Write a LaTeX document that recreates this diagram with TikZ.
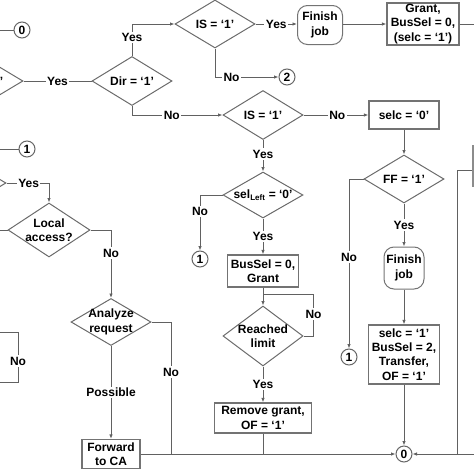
\documentclass[tikz,border=0pt]{standalone}
\usepackage{fontspec}
\setmainfont{Liberation Sans}
\usetikzlibrary{arrows.meta,shapes.geometric}

\tikzset{
  wire/.style={draw=black!62, line width=0.9pt},
  dia/.style={diamond, draw=black!58, line width=1pt, inner sep=0pt,
    minimum width=80pt, minimum height=48pt, label={[align=center]center:#1}},
  box/.style={rectangle, draw=black!55, line width=1.2pt, align=center, inner sep=1pt},
  job/.style={rectangle, rounded corners=10pt, draw=black!55, line width=1pt, align=center,
    inner sep=1pt, minimum width=45pt, minimum height=40pt},
  conn/.style={circle, draw=black!60, line width=1pt, inner sep=0pt, minimum size=16pt},
  lab/.style={fill=white, inner sep=1.5pt},
}

\begin{document}
\begin{tikzpicture}[x=1pt, y=-1pt, >={Latex[length=4.5pt,width=3.5pt]},
    font=\fontsize{12}{14.4}\selectfont\bfseries]
  \clip (0,0) rectangle (474,474);

  % nodes
  \node[conn] (c0a) at (22,30) {0};
  \node[dia={}] (req) at (-17,81) {};
  \node[anchor=base] (q) at (1.5,85) {’};
  \node[dia={Dir = ‘1’}, minimum height=49pt] (dir) at (132,81) {};
  \node[dia={IS = ‘1’}] (isa) at (215,24) {};
  \node[job, minimum height=39pt] (fina) at (320,25) {Finish\\job};
  \node[box, minimum width=72pt, minimum height=42pt] (grant) at (423,24) {Grant,\\BusSel = 0,\\(selc = ‘1’)};
  \node[conn] (c2) at (287,77) {2};
  \node[dia={IS = ‘1’}, minimum height=49pt] (isb) at (263,115) {};
  \node[box, minimum width=70pt, minimum height=28pt] (selca) at (404,115) {selc = ‘0’};
  \node[dia={FF = ‘1’}] (ff) at (404,179) {};
  \node[job, minimum width=40pt, minimum height=42pt] (finb) at (404,268) {Finish\\job};
  \node[box, minimum width=71pt, minimum height=59pt] (selcb) at (404,354.5) {selc = ‘1’\\BusSel = 2,\\Transfer,\\OF = ‘1’};
  \node[conn] (c0b) at (404,454) {0};
  \node[conn] (c1c) at (349,357) {1};
  \node[dia={sel\textsubscript{Left} = ‘0’}, minimum height=46pt] (sel) at (263,195) {};
  \node[conn] (c1b) at (200,259) {1};
  \node[box, minimum width=71pt, minimum height=32pt] (bus) at (263,271) {BusSel = 0,\\Grant};
  \node[dia={Reached\\limit}, minimum height=60pt] (reach) at (263,336) {};
  \node[box, minimum width=97pt, minimum height=30pt] (remove) at (263,418) {Remove grant,\\OF = ‘1’};
  \node[conn] (c1a) at (27,149) {1};
  \node[dia={}] (small) at (-34,183) {};
  \node[dia={Local\\access?}, minimum width=82pt, minimum height=54pt] (local) at (49,230) {};
  \node[dia={Analyze\\request}, minimum height=47pt] (analyze) at (111,322) {};
  \node[box, minimum width=58pt, minimum height=29pt] (forward) at (111,454) {Forward\\to CA};
  \node[fill=black!45, inner sep=0pt, minimum width=6pt, minimum height=42pt] (bar) at (475,166) {};

  \coordinate (in0) at (-5,30);
  \coordinate (in1) at (-5,149);
  \coordinate (inl) at (-5,230);
  \coordinate (outa) at (480,24);
  \coordinate (outb) at (480,454);
  \coordinate (barin) at (472,170);
  \coordinate (rt) at (457,454);
  \coordinate (loop) at (263,294);
  \coordinate (nj) at (171,454);
  \coordinate (bra) at (-5,332);
  \coordinate (brb) at (18,382);
  \coordinate (brc) at (-5,382);

  % connectors
  \draw[wire] (in0) -- (c0a);
  \draw[wire] (req.east) -- node[lab] {Yes} (dir.west);
  \draw[wire,->] (dir.north) |- node[lab,pos=0.29] {Yes} (isa.west);
  \draw[wire,->] (dir.south) |- node[lab,pos=0.72] {No} (isb.west);
  \draw[wire,->] (isa.east) -- node[lab] {Yes} (isa.east -| fina.west);
  \draw[wire,->] (fina.east |- grant.west) -- (grant.west);
  \draw[wire] (grant.east) -- (outa);
  \draw[wire,->] (isa.south) |- node[lab,pos=0.63] {No} (c2.west);
  \draw[wire,->] (isb.east) -- node[lab,pos=0.52] {No} (selca.west);
  \draw[wire,->] (selca.south) -- (ff.north);
  \draw[wire,->] (ff.south) -- node[lab] {Yes} (finb.north);
  \draw[wire,->] (ff.west) -| node[lab,pos=0.73] {No} (c1c.north);
  \draw[wire,->] (finb.south) -- (selcb.north);
  \draw[wire,->] (selcb.south) -- (c0b.north);
  \draw[wire] (barin) -| (rt);
  \draw[wire,->] (outb) -- (c0b.east);
  \draw[wire,->] (isb.south) -- node[lab,pos=0.45] {Yes} (sel.north);
  \draw[wire,->] (sel.west) -| node[lab,pos=0.65] {No} (c1b.north);
  \draw[wire,->] (sel.south) -- node[lab] {Yes} (bus.north);
  \draw[wire,->] (bus.south) -- (reach.north);
  \draw[wire] (reach.east) -- ++(10,0) |- node[lab,pos=0.26] {No} (loop);
  \draw[wire,->] (reach.south) -- node[lab] {Yes} (remove.north);
  \draw[wire] (remove.south) -- (remove.south |- c0b);
  \draw[wire,->] (forward.east) -- (c0b.west);
  \draw[wire] (analyze.east) -| node[lab,pos=0.69] {No} (nj);
  \draw[wire,->] (analyze.south) -- node[lab] {Possible} (forward.north);
  \draw[wire,->] (local.east) -| node[lab,pos=0.67] {No} (analyze.north);
  \draw[wire,->] (small.east) -| node[lab,pos=0.26] {Yes} (local.north);
  \draw[wire] (local.west) -- (inl);
  \draw[wire] (in1) -- (c1a);
  \draw[wire] (bra) -| node[lab,pos=0.79] {No} (brb) -- (brc);
\end{tikzpicture}
\end{document}
